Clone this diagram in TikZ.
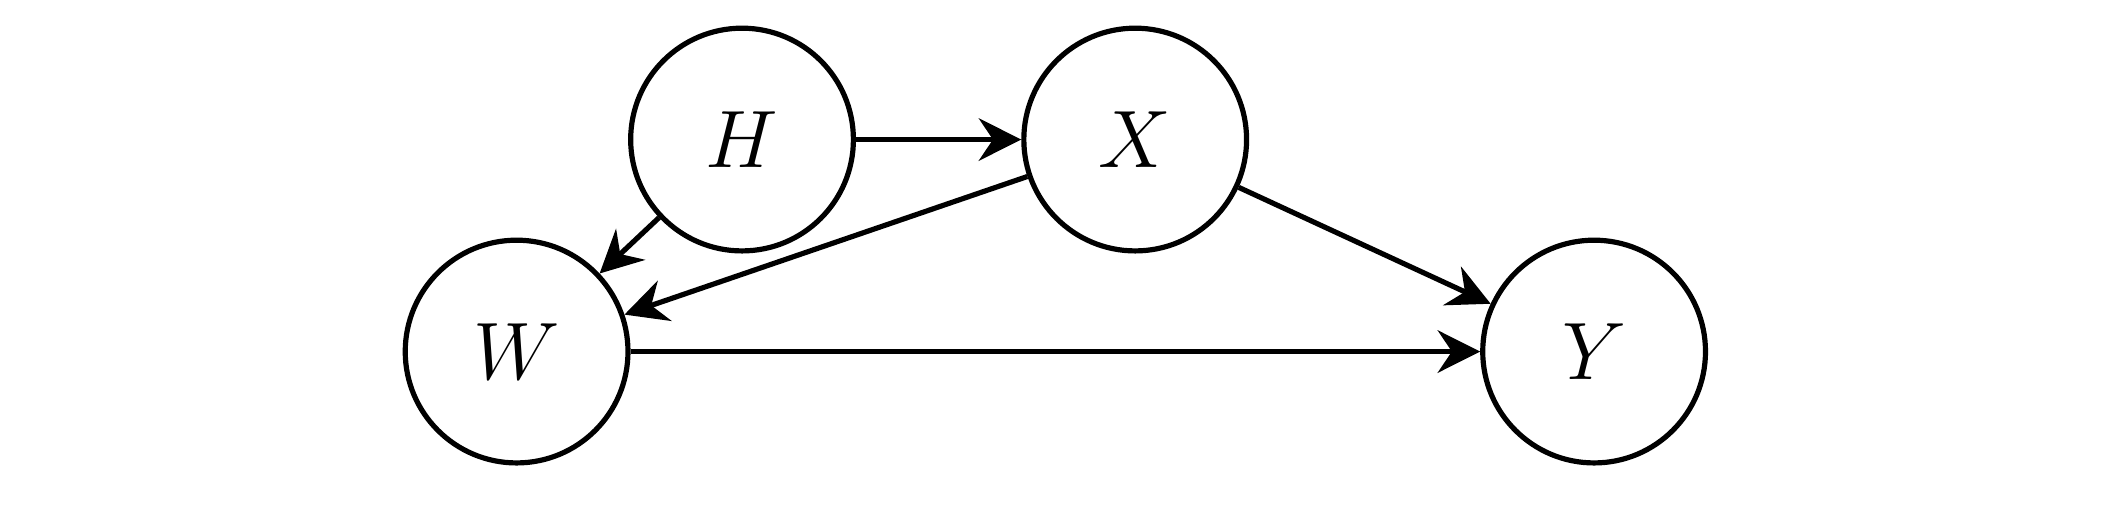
\documentclass[tikz,border=0pt]{standalone}
\usetikzlibrary{arrows.meta}
\begin{document}
\begin{tikzpicture}[
  var/.style={circle,draw,line width=1.1pt,minimum size=1.66cm,inner sep=0pt,font=\fontsize{17}{20}\selectfont},
  edge/.style={line width=1.1pt,-{Stealth[length=9pt,width=9pt,inset=3pt]}}]
\useasboundingbox (0,0) rectangle (15.68,3.78);
\node[var] (H) at (5.53,2.74) {$H$};
\node[var] (X) at (8.46,2.74) {$X$};
\node[var] (W) at (3.85,1.16) {$W$};
\node[var] (Y) at (11.88,1.16) {$Y$};
\draw[edge] (H) -- (X);
\draw[edge] (H) -- (W);
\draw[edge] (X) -- (W);
\draw[edge] (X) -- (Y);
\draw[edge] (W) -- (Y);
\end{tikzpicture}
\end{document}
